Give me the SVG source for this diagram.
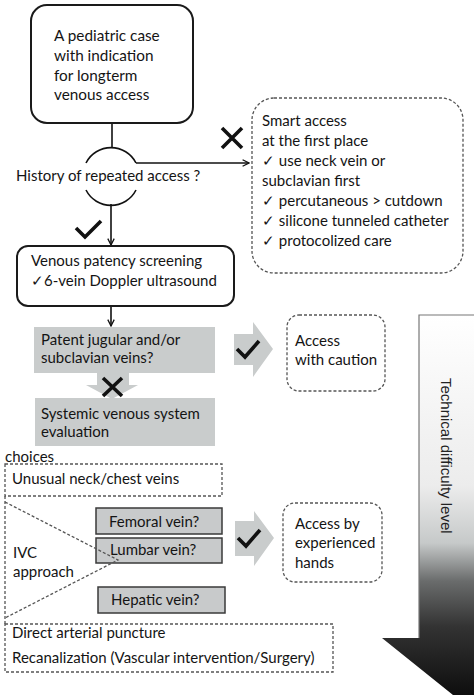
<svg xmlns="http://www.w3.org/2000/svg" width="474" height="695" viewBox="0 0 474 695">
<defs>
<style>
text{font-family:Lato,"Liberation Sans",sans-serif;font-size:15px;fill:#141414}
.big{font-size:15.3px}
.box{fill:#fff;stroke:#1a1a1a;stroke-width:2}
.dash{fill:none;stroke:#555;stroke-width:1.3;stroke-dasharray:3 2}
.gray{fill:#c9cccc}
.gbox{fill:#c8cacb;stroke:#3a3a3a;stroke-width:1.5}
.ln{fill:none;stroke:#111;stroke-width:1.6}
.mk{fill:none;stroke:#111;stroke-width:3.6;stroke-linecap:butt;stroke-linejoin:miter}
.vt{font-family:"Liberation Sans",Arial,sans-serif;font-size:15px;fill:#222}
</style>
<marker id="ah" viewBox="0 0 10 10" refX="9" refY="5" markerWidth="8" markerHeight="8" orient="auto" markerUnits="userSpaceOnUse">
<path d="M1,1 L9,5 L1,9" fill="none" stroke="#111" stroke-width="1.6"/>
</marker>
<linearGradient id="gr" x1="0" y1="315" x2="0" y2="695" gradientUnits="userSpaceOnUse">
<stop offset="0" stop-color="#ffffff"/>
<stop offset="0.45" stop-color="#ececec"/>
<stop offset="0.6" stop-color="#c6c9c9"/>
<stop offset="0.7" stop-color="#6a6c6c"/>
<stop offset="0.82" stop-color="#333"/>
<stop offset="1" stop-color="#0e0e0e"/>
</linearGradient>
</defs>
<rect width="474" height="695" fill="#fff"/>

<g id="difficulty">
<polygon points="419,315 474,315 474,695 453,695 382,638 419,638" fill="url(#gr)"/>
<polyline points="419,638 419,315 474,315" fill="none" stroke="#777" stroke-width="1.2"/>
<text class="vt" transform="translate(441,378) rotate(90)">Technical difficulty level</text>
</g>

<g id="connectors">
<line class="ln" x1="112" y1="123" x2="112" y2="148"/>
<path class="ln" d="M86,163 A28,28 0 0 1 136,163"/>
<path class="ln" d="M86,190 A28,28 0 0 0 136,190"/>
<line class="ln" x1="136" y1="163" x2="249" y2="163" marker-end="url(#ah)"/>
<line class="ln" x1="111" y1="204" x2="111" y2="245" marker-end="url(#ah)"/>
<line class="ln" x1="111" y1="306" x2="111" y2="326" marker-end="url(#ah)"/>
<path class="mk" d="M222,128 L242,148 M242,128 L222,148"/>
<path class="mk" d="M76,228 L85,237 L101,221"/>
<polygon class="gray" points="97,373 129,373 129,385 138,385 112,399 86,385 97,385"/>
<path class="mk" d="M103,378 L122,396 M122,378 L103,396"/>
<polygon class="gray" points="234,334 253,334 253,322 273,349 253,377 253,365 234,365"/>
<path class="mk" d="M237,349 L245,357 L259,341"/>
<polygon class="gray" points="235,521 254,521 254,511 274,538 254,566 254,556 235,556"/>
<path class="mk" d="M238,538 L246,546 L260,530"/>
</g>

<g id="start">
<rect class="box" x="31" y="5" width="162" height="118" rx="16"/>
<text class="big" x="54" y="41">A pediatric case</text>
<text class="big" x="54" y="61">with indication</text>
<text class="big" x="54" y="81">for longterm</text>
<text class="big" x="54" y="100">venous access</text>
</g>

<g id="history">
<text x="16" y="181">History of repeated access ?</text>
</g>

<g id="smart">
<rect class="dash" x="252" y="98" width="211" height="175" rx="22"/>
<text x="262" y="126">Smart access</text>
<text x="262" y="146">at the first place</text>
<text x="262" y="166">✓ use neck vein or</text>
<text x="262" y="186">subclavian first</text>
<text x="262" y="206">✓ percutaneous &gt; cutdown</text>
<text x="262" y="226">✓ silicone tunneled catheter</text>
<text x="262" y="246">✓ protocolized care</text>
</g>

<g id="screening">
<rect class="box" x="17" y="246" width="217" height="60" rx="11"/>
<text x="31" y="266">Venous patency screening</text>
<text x="31" y="286">✓6-vein Doppler ultrasound</text>
</g>

<g id="patent">
<rect class="gray" x="34" y="327" width="181" height="46"/>
<text x="41" y="345">Patent jugular and/or</text>
<text x="41" y="363">subclavian veins?</text>
</g>

<g id="caution">
<rect class="dash" x="287" y="315" width="98" height="76" rx="12"/>
<text x="295" y="346">Access</text>
<text x="295" y="365">with caution</text>
</g>

<g id="systemic">
<rect class="gray" x="35" y="398" width="180" height="48"/>
<text x="41" y="419">Systemic venous system</text>
<text x="41" y="437">evaluation</text>
</g>

<g id="choices">
<text x="5" y="462">choices</text>
<rect class="dash" x="5" y="464" width="217" height="32"/>
<text x="12" y="484">Unusual neck/chest veins</text>
<line class="dash" x1="5" y1="496" x2="5" y2="624"/>
</g>

<g id="femoral">
<rect class="gbox" x="96" y="508" width="126" height="26"/>
<text x="109" y="527">Femoral vein?</text>
</g>
<g id="lumbar">
<rect class="gbox" x="96" y="538" width="126" height="25"/>
<text x="110" y="555">Lumbar vein?</text>
</g>
<g id="hepatic">
<rect class="gbox" x="98" y="587" width="127" height="26"/>
<text x="111" y="605">Hepatic vein?</text>
</g>

<g id="ivc">
<polyline class="dash" points="5,502 118,560 5,618"/>
<text x="13" y="558">IVC</text>
<text x="13" y="577">approach</text>
</g>

<g id="experienced">
<rect class="dash" x="283" y="503" width="99" height="79" rx="12"/>
<text x="295" y="529">Access by</text>
<text x="295" y="548">experienced</text>
<text x="295" y="568">hands</text>
</g>

<g id="direct">
<rect class="dash" x="5" y="624" width="328" height="48"/>
<text x="12" y="638">Direct arterial puncture</text>
<text x="12" y="663">Recanalization (Vascular intervention/Surgery)</text>
</g>
</svg>
